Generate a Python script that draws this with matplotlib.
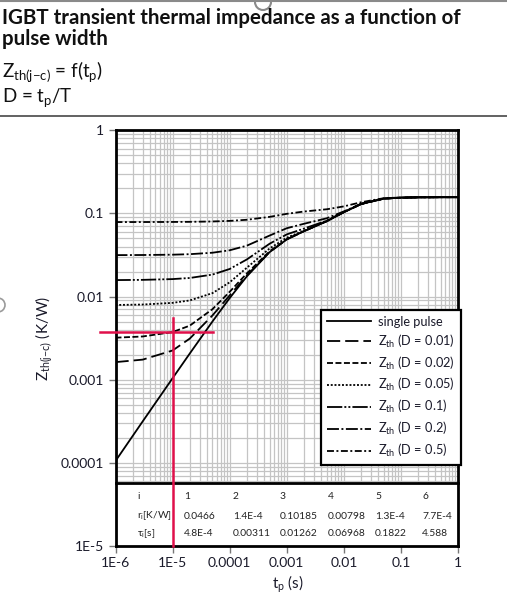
import matplotlib
matplotlib.use("Agg")
import matplotlib.pyplot as plt
from matplotlib.lines import Line2D
from matplotlib.patches import Rectangle, Ellipse
import matplotlib.ticker as mticker

plt.rcParams['font.family'] = ['Lato', 'DejaVu Sans']
plt.rcParams['mathtext.fontset'] = 'custom'
plt.rcParams['mathtext.rm'] = 'Lato'
plt.rcParams['mathtext.it'] = 'Lato:italic'
plt.rcParams['lines.scale_dashes'] = False

# ---------------- data ----------------
tp = [1e-6, 3e-6, 1e-5, 2e-5, 5e-5, 1e-4, 2e-4, 5e-4, 1e-3, 2e-3, 5e-3,
      1e-2, 2e-2, 5e-2, 0.1, 0.2, 0.5, 1.0]

z_single = [1.053e-4, 3.16e-4, 1.043e-3, 2.066e-3, 5.020e-3, 9.59e-3, 0.01751,
            0.03419, 0.04871, 0.06110, 0.08058, 0.1035, 0.1297, 0.1508,
            0.1547, 0.1562, 0.1568, 0.1569]
z_d001 = [0.001628, 0.001745, 0.002247, 0.003124, 0.005934, 0.010332, 0.018002,
          0.03433, 0.04876, 0.06112, 0.08059, 0.10355, 0.12972, 0.15078,
          0.15471, 0.15624, 0.15677, 0.15685]
z_d002 = [0.003202, 0.003312, 0.003743, 0.004471, 0.007059, 0.011411, 0.019003,
          0.034973, 0.048986, 0.061191, 0.080616, 0.103558, 0.129733, 0.15079,
          0.154713, 0.156242, 0.156766, 0.15685]
z_d005 = [0.007923, 0.008026, 0.008402, 0.008985, 0.011006, 0.014844, 0.022245,
          0.03788, 0.051098, 0.062089, 0.080811, 0.103647, 0.129763, 0.150813,
          0.154735, 0.156261, 0.156776, 0.156853]
z_d01 = [0.015791, 0.015889, 0.016231, 0.016741, 0.018394, 0.021471, 0.027972,
         0.043192, 0.055957, 0.065716, 0.081844, 0.103985, 0.129921, 0.150857,
         0.154773, 0.156298, 0.156806, 0.15687]
z_d02 = [0.031533, 0.03162, 0.031914, 0.032351, 0.033692, 0.036044, 0.040967,
         0.054174, 0.066387, 0.075092, 0.087373, 0.105817, 0.130539, 0.151055,
         0.154858, 0.156372, 0.156875, 0.156927]
z_d05 = [0.07876, 0.078814, 0.0790, 0.07926, 0.08005, 0.081359, 0.083929,
         0.090909, 0.098931, 0.10543, 0.112193, 0.121575, 0.136277, 0.152513,
         0.155506, 0.156632, 0.157092, 0.157126]

series_labels = ["single pulse", "Z$_\\mathregular{th}$ (D = 0.01)",
                 "Z$_\\mathregular{th}$ (D = 0.02)", "Z$_\\mathregular{th}$ (D = 0.05)",
                 "Z$_\\mathregular{th}$ (D = 0.1)", "Z$_\\mathregular{th}$ (D = 0.2)",
                 "Z$_\\mathregular{th}$ (D = 0.5)"]

x_ticks = [1e-6, 1e-5, 1e-4, 1e-3, 1e-2, 1e-1, 1]
x_ticklabels = ["1E-6", "1E-5", "0.0001", "0.001", "0.01", "0.1", "1"]
y_ticks = [1e-5, 1e-4, 1e-3, 1e-2, 1e-1, 1]
y_ticklabels = ["1E-5", "0.0001", "0.001", "0.01", "0.1", "1"]

table_i = ["1", "2", "3", "4", "5", "6"]
table_r = ["0.0466", "1.4E-4", "0.10185", "0.00798", "1.3E-4", "7.7E-4"]
table_tau = ["4.8E-4", "0.00311", "0.01262", "0.06968", "0.1822", "4.588"]

marker_t = 1e-5
marker_z = 0.0038

# ---------------- figure ----------------
W, H = 507, 596
fig = plt.figure(figsize=(W / 100, H / 100), dpi=100)

def fx(px):
    return px / W

def fy(py):
    return 1 - py / H

# header
fig.add_artist(Line2D([0, 1], [fy(0.8), fy(0.8)], color='#8a8a8a', lw=1.5))
fig.add_artist(Ellipse((fx(263), fy(2)), 16 / W, 16 / H, facecolor='white',
                       edgecolor='#8a8a8a', lw=1.5))
fig.add_artist(Ellipse((fx(-2), fy(305)), 14 / W, 14 / H, facecolor='white',
                       edgecolor='#9a9a9a', lw=1.2))
fig.text(fx(2), fy(24), "IGBT transient thermal impedance as a function of",
         fontsize=14.8, fontweight='bold', va='baseline', ha='left', color='#111')
fig.text(fx(2), fy(45), "pulse width", fontsize=14.8, fontweight='bold',
         va='baseline', ha='left', color='#111')
fig.text(fx(2), fy(77), "Z$_\\mathregular{th(j{-}c)}$ = f(t$_\\mathregular{p}$)",
         fontsize=13.5, va='baseline', ha='left', color='#111')
fig.text(fx(2), fy(102), "D = t$_\\mathregular{p}$/T", fontsize=13.5,
         va='baseline', ha='left', color='#111')
fig.add_artist(Line2D([0, 1], [fy(116), fy(116)], color='#555555', lw=1.3))

# axes
ax_l, ax_r, ax_t, ax_b = 115.5, 458, 130.3, 546
ax = fig.add_axes([fx(ax_l), fy(ax_b), (ax_r - ax_l) / W, (ax_b - ax_t) / H])
ax.set_xscale('log')
ax.set_yscale('log')
ax.set_xlim(1e-6, 1)
ax.set_ylim(1e-5, 1)
ax.set_axisbelow(True)
ax.grid(which='both', color='#c4c4c4', lw=0.9)
for s in ax.spines.values():
    s.set_linewidth(2)
    s.set_color('black')

ax.xaxis.set_major_locator(mticker.FixedLocator(x_ticks))
ax.xaxis.set_major_formatter(mticker.FixedFormatter(x_ticklabels))
ax.yaxis.set_major_locator(mticker.FixedLocator(y_ticks))
ax.yaxis.set_major_formatter(mticker.FixedFormatter(y_ticklabels))
ax.xaxis.set_minor_locator(mticker.LogLocator(base=10, subs=range(2, 10), numticks=20))
ax.yaxis.set_minor_locator(mticker.LogLocator(base=10, subs=range(2, 10), numticks=20))
ax.xaxis.set_minor_formatter(mticker.NullFormatter())
ax.yaxis.set_minor_formatter(mticker.NullFormatter())
ax.tick_params(which='major', direction='out', length=5, width=1, color='#777777',
               labelsize=10, labelcolor='#1a1a2a', pad=3)
ax.tick_params(which='minor', length=0)

lw = 1.3
styles = [
    dict(ls='-'),
    dict(dashes=(9.5, 3.6)),
    dict(dashes=(4.3, 1.8)),
    dict(dashes=(1.4, 1.3)),
    dict(dashes=(11.0, 1.5, 1.4, 1.5, 1.4, 1.5)),
    dict(dashes=(8.6, 1.8, 1.4, 1.8)),
    dict(dashes=(5.0, 1.8, 1.4, 1.8)),
]
all_series = [z_single, z_d001, z_d002, z_d005, z_d01, z_d02, z_d05]
for z, st, lab in zip(all_series, styles, series_labels):
    ax.plot(tp, z, color='black', lw=lw, label=lab, zorder=3, **st)

# parameter table drawn in the lower part of the axes
tab_h = (ax_b - 483.3) / (ax_b - ax_t)
ax.add_patch(Rectangle((0, 0), 1, tab_h, transform=ax.transAxes, facecolor='white',
                       edgecolor='none', zorder=2.5))
ax.plot([0, 1], [tab_h, tab_h], transform=ax.transAxes, color='black', lw=2, zorder=2.6,
        clip_on=False)
col_x = [0.200, 0.343, 0.480, 0.620, 0.758, 0.895]
row_y = [0.118, 0.072, 0.029]
tfs = 7.4
ax.text(0.063, row_y[0], "i", transform=ax.transAxes, fontsize=tfs, va='center',
        color='#222', zorder=2.7)
ax.text(0.063, row_y[1], "r$_\\mathregular{i}$[K/W]", transform=ax.transAxes, fontsize=tfs,
        va='center', color='#222', zorder=2.7)
ax.text(0.063, row_y[2], "τ$_\\mathregular{i}$[s]", transform=ax.transAxes, fontsize=tfs,
        va='center', color='#222', zorder=2.7)
for cx, a, b, c in zip(col_x, table_i, table_r, table_tau):
    ax.text(cx, row_y[0], a, transform=ax.transAxes, fontsize=tfs, va='center',
            color='#222', zorder=2.7)
    ax.text(cx, row_y[1], b, transform=ax.transAxes, fontsize=tfs, va='center',
            color='#222', zorder=2.7)
    ax.text(cx, row_y[2], c, transform=ax.transAxes, fontsize=tfs, va='center',
            color='#222', zorder=2.7)

# red read-out markers
red = '#e0104a'
ax.plot([marker_t, marker_t], [1e-5, marker_z * 1.47], color=red, lw=1.8, zorder=6,
        clip_on=False)
ax.plot([5.4e-7, 5.1e-5], [marker_z, marker_z], color=red, lw=1.8, zorder=6,
        clip_on=False)

# legend
leg = ax.legend(loc='upper left', bbox_to_anchor=(0.600, 0.568), borderaxespad=0,
                fontsize=9.2, frameon=True, fancybox=False, edgecolor='black',
                framealpha=1, handlelength=3.5, handletextpad=0.55,
                labelspacing=0.38, borderpad=0.45)
leg.get_frame().set_linewidth(1.6)
leg.set_zorder(7)
for t in leg.get_texts():
    t.set_color('#1a1a2a')

# axis labels
fig.text(fx(44), fy(338), "Z$_\\mathregular{th(j{-}c)}$ (K/W)", rotation=90,
         fontsize=11, ha='center', va='center', color='#1a1a2a')
fig.text(fx(288), fy(584), "t$_\\mathregular{p}$ (s)", fontsize=11,
         ha='center', va='center', color='#1a1a2a')

fig.savefig("out.png", dpi=100)
